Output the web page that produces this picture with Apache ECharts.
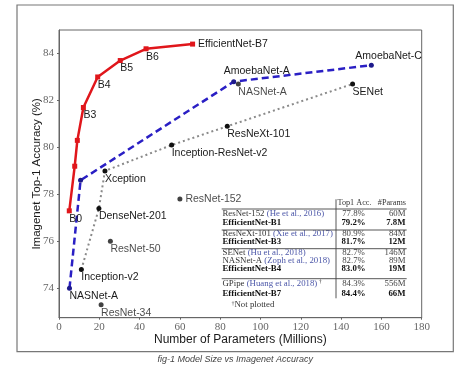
<!DOCTYPE html>
<html>
<head>
<meta charset="utf-8">
<script src="https://cdn.jsdelivr.net/npm/echarts@6/dist/echarts.min.js"></script>
<style>html,body{margin:0;padding:0;background:#fff;}#c{width:474px;height:373px;}</style>
</head>
<body>
<div id="c"></div>
<script>
// ---- Data ----
const effNames = ['B0', '', '', 'B3', 'B4', 'B5', 'B6', 'EfficientNet-B7'];
const effParams = [5.1, 7.8, 9.1, 12.1, 19.2, 30.4, 43.2, 66.3];
const effAcc = [77.3, 79.2, 80.3, 81.7, 83.0, 83.7, 84.2, 84.4];

const nasNames = ['NASNet-A', '', 'AmoebaNet-A', 'AmoebaNet-C'];
const nasParams = [5.2, 10.7, 86.7, 155.0];
const nasAcc = [74.0, 78.6, 82.8, 83.5];

const otherLineNames = ['Inception-v2', 'DenseNet-201', 'Xception', 'Inception-ResNet-v2', 'ResNeXt-101', 'SENet'];
const otherLineParams = [11.1, 19.8, 22.8, 55.9, 83.5, 145.7];
const otherLineAcc = [74.8, 77.4, 79.0, 80.1, 80.9, 82.7];

const scatterNames = ['ResNet-152', 'ResNet-50', 'ResNet-34', 'NASNet-A'];
const scatterParams = [60.0, 25.5, 20.9, 89.0];
const scatterAcc = [77.8, 76.0, 73.3, 82.7];

const xTicks = [0, 20, 40, 60, 80, 100, 120, 140, 160, 180];
const yTicks = [74, 76, 78, 80, 82, 84];

const tableHeader = ['Top1 Acc.', '#Params'];
const tableModels = ['ResNet-152', 'EfficientNet-B1', 'ResNeXt-101', 'EfficientNet-B3', 'SENet', 'NASNet-A', 'EfficientNet-B4', 'GPipe', 'EfficientNet-B7'];
const tableCites = ['(He et al., 2016)', '', '(Xie et al., 2017)', '', '(Hu et al., 2018)', '(Zoph et al., 2018)', '', '(Huang et al., 2018)', ''];
const tableAcc = ['77.8%', '79.2%', '80.9%', '81.7%', '82.7%', '82.7%', '83.0%', '84.3%', '84.4%'];
const tableParams = ['60M', '7.8M', '84M', '12M', '146M', '89M', '19M', '556M', '66M'];
const tableFootnote = 'Not plotted';

// ---- Style / layout ----
const labelPlace = {
  'B0': 'below', 'B3': 'below', 'B4': 'below', 'B5': 'below', 'B6': 'below',
  'EfficientNet-B7': 'right', 'ResNet-152': 'right',
  'AmoebaNet-A': 'topA', 'AmoebaNet-C': 'topC'
};
const placeStyle = {
  below: { position: 'bottom', align: 'left', distance: 0 },
  right: { position: 'right', distance: 3 },
  topA: { position: 'top', align: 'left', distance: 3, offset: [-10, 0] },
  topC: { position: 'top', align: 'left', distance: 1, offset: [-16, 0] }
};
const sans = 'Liberation Sans';
const serif = 'Liberation Serif';

function pts(xs, ys, names) {
  return xs.map((x, i) => ({
    value: [x, ys[i]],
    name: names[i],
    label: names[i]
      ? Object.assign({ show: true, formatter: '{b}' }, placeStyle[labelPlace[names[i]] || 'below'])
      : { show: false }
  }));
}
const labelBase = { fontFamily: sans, fontSize: 10.5, color: '#1a1a1a' };

// table graphics
const rowY = [213.7, 222.7, 233.3, 241.7, 252.3, 260.2, 268.5, 283.3, 293.3];
const ruleY = [209, 230, 248.7, 278.7];
const tbl = [];
const tFont = 8.8;
tbl.push({ type: 'text', silent: true, x: 337.5, y: 203.3,
  style: { text: tableHeader[0], font: '8.2px ' + serif, fill: '#333', align: 'left', verticalAlign: 'middle' } });
tbl.push({ type: 'text', silent: true, x: 406, y: 203.3,
  style: { text: tableHeader[1], font: '8.2px ' + serif, fill: '#333', align: 'right', verticalAlign: 'middle' } });
tableModels.forEach((m, i) => {
  const bold = m.indexOf('EfficientNet') === 0;
  let txt = bold ? '{b|' + m + '}' : '{n|' + m + ' }{c|' + tableCites[i] + '}';
  if (m === 'GPipe') txt += '{s| †}';
  tbl.push({ type: 'text', silent: true, x: 222.5, y: rowY[i],
    style: { text: txt, verticalAlign: 'middle', align: 'left',
      rich: {
        b: { fontFamily: serif, fontSize: tFont, fontWeight: 'bold', fill: '#111' },
        n: { fontFamily: serif, fontSize: tFont, fill: '#333' },
        c: { fontFamily: serif, fontSize: tFont, fill: '#4b56a8' },
        s: { fontFamily: serif, fontSize: 6, fill: '#333', verticalAlign: 'top' }
      } } });
  tbl.push({ type: 'text', silent: true, x: 353.5, y: rowY[i],
    style: { text: tableAcc[i], font: (bold ? 'bold ' : '') + tFont + 'px ' + serif, fill: bold ? '#111' : '#444', align: 'center', verticalAlign: 'middle' } });
  tbl.push({ type: 'text', silent: true, x: 405.5, y: rowY[i],
    style: { text: tableParams[i], font: (bold ? 'bold ' : '') + tFont + 'px ' + serif, fill: bold ? '#111' : '#444', align: 'right', verticalAlign: 'middle' } });
});
ruleY.forEach(y => tbl.push({ type: 'line', silent: true,
  shape: { x1: 221.7, y1: y, x2: 406.7, y2: y }, style: { stroke: '#444', lineWidth: 0.9 } }));
tbl.push({ type: 'line', silent: true, shape: { x1: 336, y1: 199.3, x2: 336, y2: 298.3 }, style: { stroke: '#444', lineWidth: 0.9 } });
tbl.push({ type: 'text', silent: true, x: 231.5, y: 305,
  style: { text: '{s|†}{n|' + tableFootnote + '}', verticalAlign: 'middle',
    rich: { s: { fontFamily: serif, fontSize: 6, fill: '#333', verticalAlign: 'top' },
            n: { fontFamily: serif, fontSize: tFont, fill: '#333' } } } });

const chart = echarts.init(document.getElementById('c'), null, { renderer: 'canvas' });
chart.setOption({
  animation: false,
  backgroundColor: '#fff',
  grid: { left: 59, top: 30, right: 52.3, bottom: 55.3, show: true, borderColor: '#666', borderWidth: 1, backgroundColor: 'transparent' },
  xAxis: {
    type: 'value', min: 0, max: 180, interval: 20,
    name: 'Number of Parameters (Millions)', nameLocation: 'middle', nameGap: 16, nameMoveOverlap: false,
    nameTextStyle: { fontFamily: sans, fontSize: 12, color: '#1a1a1a' },
    axisLine: { show: true, lineStyle: { color: '#666' } },
    axisTick: { show: true, length: 2, lineStyle: { color: '#666' }, customValues: xTicks },
    axisLabel: { margin: 4, fontFamily: serif, fontSize: 11, color: '#666', customValues: xTicks },
    splitLine: { show: false }
  },
  yAxis: {
    type: 'value', min: 72.75, max: 85,
    name: 'Imagenet Top-1 Accuracy (%)', nameLocation: 'middle', nameGap: 16, nameRotate: 90, nameMoveOverlap: false,
    nameTextStyle: { fontFamily: sans, fontSize: 11.5, color: '#1a1a1a' },
    axisLine: { show: true, lineStyle: { color: '#666' } },
    axisTick: { show: true, length: 2, lineStyle: { color: '#666' }, customValues: yTicks },
    axisLabel: { margin: 5, fontFamily: serif, fontSize: 11, color: '#666', customValues: yTicks },
    splitLine: { show: false }
  },
  series: [
    {
      type: 'line', z: 3, data: pts(otherLineParams, otherLineAcc, otherLineNames),
      symbol: 'circle', symbolSize: 5,
      lineStyle: { color: '#8a8a8a', width: 2, type: [2, 3] },
      itemStyle: { color: '#111' },
      label: labelBase
    },
    {
      type: 'scatter', z: 3, data: pts(scatterParams, scatterAcc, scatterNames),
      symbol: 'circle', symbolSize: 5,
      itemStyle: { color: '#111' },
      label: labelBase
    },
    {
      type: 'line', z: 4, data: pts(nasParams, nasAcc, nasNames),
      symbol: 'circle', symbolSize: 5,
      lineStyle: { color: '#2a1fc4', width: 2.5, type: [7, 4] },
      itemStyle: { color: '#1d1a8c' },
      label: labelBase
    },
    {
      type: 'line', z: 5, data: pts(effParams, effAcc, effNames),
      symbol: 'rect', symbolSize: 5,
      lineStyle: { color: '#e0161b', width: 2.5 },
      itemStyle: { color: '#e0161b' },
      label: labelBase
    }
  ],
  graphic: [
    { type: 'rect', silent: true, z: -1, shape: { x: 17, y: 5, width: 436.3, height: 346.7 },
      style: { fill: 'none', stroke: '#777', lineWidth: 1.2 } },
    { type: 'text', silent: true, x: 235.3, y: 359.5,
      style: { text: 'fig-1 Model Size vs Imagenet Accuracy', font: 'italic 9px ' + sans, fill: '#444', align: 'center', verticalAlign: 'middle' } }
  ].concat(tbl)
});
</script>
</body>
</html>
